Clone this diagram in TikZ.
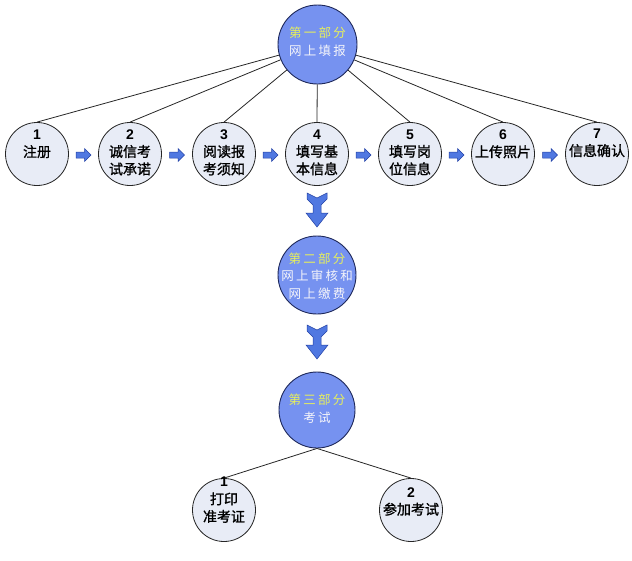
\documentclass[tikz,border=0pt]{standalone}
\usepackage{fontspec}
\setmainfont{Noto Sans CJK SC}
\newfontfamily\cjkwide[LetterSpace=18]{Noto Sans CJK SC}
\newfontfamily\cjkmed[FakeBold=1.2]{Noto Sans CJK SC}
\usetikzlibrary{calc}
\definecolor{bigfill}{RGB}{118,146,240}
\definecolor{bigdraw}{RGB}{30,40,90}
\definecolor{smallfill}{RGB}{232,236,246}
\definecolor{arrfill}{RGB}{80,120,225}
\definecolor{arrdraw}{RGB}{35,65,165}
\definecolor{titleyellow}{RGB}{232,240,90}
\definecolor{titlewhite}{RGB}{245,245,250}
\tikzset{
  bigc/.style={circle, draw=bigdraw, line width=0.9pt, fill=bigfill, inner sep=0pt},
  smallc/.style={circle, draw=black!85, line width=0.8pt, fill=smallfill, minimum size=63pt, inner sep=0pt},
  stxt/.style={align=center, inner sep=0pt, font=\cjkmed\fontsize{14}{17.5}\selectfont, text=black},
  btxt/.style={align=center, inner sep=0pt, font=\cjkwide\fontsize{12.5}{17.5}\selectfont, text=titlewhite},
  link/.style={draw=black!85, line width=0.8pt},
  rarrow/.pic={\path[fill=arrfill, draw=arrdraw, line width=0.5pt]
     (-7.5,-3) -- (1,-3) -- (1,-6.5) -- (7.5,0) -- (1,6.5) -- (1,3) -- (-7.5,3) -- cycle;},
  darrow/.pic={\path[fill=arrfill, draw=arrdraw, line width=0.5pt]
     (-10,0) -- (0,5) -- (10,0) -- (10,6) -- (4,12) -- (4,20) -- (11,20) -- (0,34)
     -- (-11,20) -- (-4,20) -- (-4,12) -- (-10,6) -- cycle;}
}
\newcommand{\num}[1]{{\fontspec{Liberation Sans}\bfseries #1}}
\begin{document}
\begin{tikzpicture}[x=1pt,y=-1pt]
\useasboundingbox (0,0) rectangle (632,560);
% big circles
\node[bigc, minimum size=79pt] (p1) at (317.5,44.5) {};
\node[bigc, minimum size=78pt] (p2) at (317,275) {};
\node[bigc, minimum size=76pt] (p3) at (317,410) {};
% row circles
\foreach \i/\x in {1/37,2/130,3/224,4/317,5/410,6/503,7/597}
  \node[smallc] (c\i) at (\x,154) {};
\node[smallc] (b1) at (224,510) {};
\node[smallc] (b2) at (411,510) {};
% links
\foreach \i in {1,...,7} \draw[link] (p1) -- (c\i.north);
\draw[link] (p3.south) -- (b1.north);
\draw[link] (p3.south) -- (b2.north);
% big texts
\node[btxt] at ([yshift=3pt]p1.center) {\textcolor{titleyellow}{第一部分}\\网上填报};
\node[btxt] at ([yshift=-1pt]p2.center) {\textcolor{titleyellow}{第二部分}\\网上审核和\\网上缴费};
\node[btxt] at ([yshift=1.5pt]p3.center) {\textcolor{titleyellow}{第三部分}\\考试};
% small texts
\node[stxt] at ([yshift=10pt]c1.center) {\num{1}\\注册};
\node[stxt] at ([yshift=1.5pt]c2.center) {\num{2}\\诚信考\\试承诺};
\node[stxt] at ([yshift=1.5pt]c3.center) {\num{3}\\阅读报\\考须知};
\node[stxt] at ([yshift=1.5pt]c4.center) {\num{4}\\填写基\\本信息};
\node[stxt] at ([yshift=1.5pt]c5.center) {\num{5}\\填写岗\\位信息};
\node[stxt] at ([yshift=10pt]c6.center) {\num{6}\\上传照片};
\node[stxt] at ([yshift=11pt]c7.center) {\num{7}\\信息确认};
\node[stxt] at ([yshift=10pt]b1.center) {\num{1}\\打印\\准考证};
\node[stxt] at ([yshift=8.5pt]b2.center) {\num{2}\\参加考试};
% right arrows
\foreach \a/\b in {c1/c2,c2/c3,c3/c4,c4/c5,c5/c6,c6/c7}
  \pic at ($(\a)!0.5!(\b)+(0,1)$) {rarrow};
% down arrows
\pic at (317,193) {darrow};
\pic at (317,325) {darrow};
\end{tikzpicture}
\end{document}
